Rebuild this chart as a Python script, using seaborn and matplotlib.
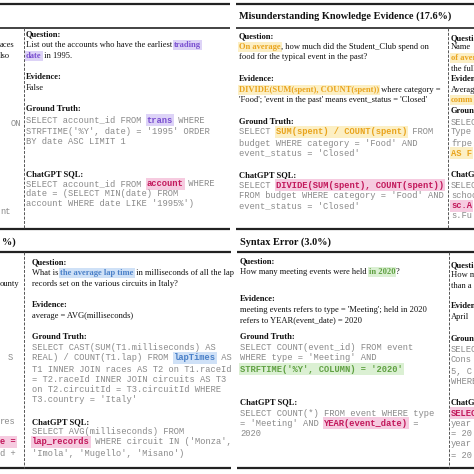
import matplotlib
matplotlib.use("Agg")
import matplotlib.pyplot as plt
import seaborn as sns

sns.set_theme(style="white")
plt.rcParams['font.family'] = ['Liberation Serif', 'DejaVu Serif']

SERIF = 'Liberation Serif'
MONO = 'Liberation Mono'
GRAY = '#8a8a8a'
HL = {
    'purple': ('#ddd3f7', '#7a4fd0'),
    'pink': ('#f6cbe0', '#c2185b'),
    'yellow': ('#fcefc4', '#e9a41d'),
    'blue': ('#cfe1f7', '#4a80c8'),
    'green': ('#dbf0d3', '#5fa041'),
}

titles = [
    (239, 16, "Misunderstanding Knowledge Evidence (17.6%)"),
    (2, 242, "%)"),
    (240, 242, "Syntax Error (3.0%)"),
]

panel_top_left = [
    (26, 34, 'b', [("Question:", None)]),
    (26, 45, 'n', [("List out the accounts who have the earliest ", None), ("trading", 'purple')]),
    (26, 56, 'n', [("date", 'purple'), (" in 1995.", None)]),
    (26, 77, 'b', [("Evidence:", None)]),
    (26, 88, 'n', [("False", None)]),
    (26, 109, 'b', [("Ground Truth:", None)]),
    (26, 120, 'm', [("SELECT account_id FROM ", None), ("trans", 'purple'), (" WHERE", None)]),
    (26, 131, 'm', [("STRFTIME('%Y', date) = '1995' ORDER", None)]),
    (26, 141, 'm', [("BY date ASC LIMIT 1", None)]),
    (26, 174, 'b', [("ChatGPT SQL:", None)]),
    (26, 184, 'm', [("SELECT account_id FROM ", None), ("account", 'pink'), (" WHERE", None)]),
    (26, 194, 'm', [("date = (SELECT MIN(date) FROM", None)]),
    (26, 204, 'm', [("account WHERE date LIKE '1995%')", None)]),
]
frag_top_left = [
    (0, 45, 'n', [("aces", None)]),
    (0, 56, 'n', [("lso", None)]),
    (11, 123, 'm', [("ON", None)]),
    (0, 212, 'm', [("nt", None)]),
]
panel_top_right = [
    (239, 36, 'b', [("Question:", None)]),
    (239, 47, 'n', [("On average", 'yellow'), (", how much did the Student_Club spend on", None)]),
    (239, 57, 'n', [("food for the typical event in the past?", None)]),
    (239, 79, 'b', [("Evidence:", None)]),
    (239, 90, 'n', [("DIVIDE(SUM(spent), COUNT(spent))", 'yellow'), (" where category =", None)]),
    (239, 100, 'n', [("'Food'; 'event in the past' means event_status = 'Closed'", None)]),
    (239, 122, 'b', [("Ground Truth:", None)]),
    (239, 132, 'm', [("SELECT ", None), ("SUM(spent) / COUNT(spent)", 'yellow'), (" FROM", None)]),
    (239, 143, 'm', [("budget WHERE category = 'Food' AND", None)]),
    (239, 153, 'm', [("event_status = 'Closed'", None)]),
    (239, 175, 'b', [("ChatGPT SQL:", None)]),
    (239, 185, 'm', [("SELECT ", None), ("DIVIDE(SUM(spent), COUNT(spent))", 'pink')]),
    (239, 195, 'm', [("FROM budget WHERE category = 'Food' AND", None)]),
    (239, 206, 'm', [("event_status = 'Closed'", None)]),
]
frag_top_right = [
    (451, 38, 'b', [("Question:", None)]),
    (451, 47, 'n', [("Name", None)]),
    (451, 58, 'n', [("of average", 'yellow')]),
    (451, 69, 'n', [("the full", None)]),
    (451, 79, 'b', [("Evidence", None)]),
    (451, 90, 'n', [("Average", None)]),
    (451, 100, 'n', [("comm", 'yellow')]),
    (451, 111, 'b', [("Ground", None)]),
    (451, 122, 'm', [("SELECT", None)]),
    (451, 132, 'm', [("Type", None)]),
    (451, 143, 'm', [("frpe", None)]),
    (451, 153, 'm', [("AS F", 'yellow')]),
    (451, 175, 'b', [("ChatGPT", None)]),
    (451, 185, 'm', [("SELECT", None)]),
    (451, 195, 'm', [("school", None)]),
    (451, 206, 'm', [("sc.A", 'pink')]),
    (451, 216, 'm', [("s.Fu", None)]),
]
panel_bot_left = [
    (32, 262, 'b', [("Question:", None)]),
    (32, 273, 'n', [("What is ", None), ("the average lap time", 'blue'), (" in milliseconds of all the lap", None)]),
    (32, 284, 'n', [("records set on the various circuits in Italy?", None)]),
    (32, 305, 'b', [("Evidence:", None)]),
    (32, 316, 'n', [("average = AVG(milliseconds)", None)]),
    (32, 337, 'b', [("Ground Truth:", None)]),
    (32, 348, 'm', [("SELECT CAST(SUM(T1.milliseconds) AS", None)]),
    (32, 358, 'm', [("REAL) / COUNT(T1.lap) FROM ", None), ("lapTimes", 'blue'), (" AS", None)]),
    (32, 369, 'm', [("T1 INNER JOIN races AS T2 on T1.raceId", None)]),
    (32, 379, 'm', [("= T2.raceId INNER JOIN circuits AS T3", None)]),
    (32, 390, 'm', [("on T2.circuitId = T3.circuitId WHERE", None)]),
    (32, 400, 'm', [("T3.country = 'Italy'", None)]),
    (32, 422, 'b', [("ChatGPT SQL:", None)]),
    (32, 432, 'm', [("SELECT AVG(milliseconds) FROM", None)]),
    (32, 442, 'm', [("lap_records", 'pink'), (" WHERE circuit IN ('Monza',", None)]),
    (32, 453, 'm', [("'Imola', 'Mugello', 'Misano')", None)]),
]
frag_bot_left = [
    (0, 284, 'n', [("ounty", None)]),
    (8, 358, 'm', [("S", None)]),
    (0, 422, 'm', [("res", None)]),
    (0, 442, 'm', [("e =", 'pink')]),
    (0, 453, 'm', [("d +", None)]),
]
panel_bot_right = [
    (240, 261, 'b', [("Question:", None)]),
    (240, 272, 'n', [("How many meeting events were held ", None), ("in 2020", 'green'), ("?", None)]),
    (240, 299, 'b', [("Evidence:", None)]),
    (240, 310, 'n', [("meeting events refers to type = 'Meeting'; held in 2020", None)]),
    (240, 320, 'n', [("refers to YEAR(event_date) = 2020", None)]),
    (240, 337, 'b', [("Ground Truth:", None)]),
    (240, 348, 'm', [("SELECT COUNT(event_id) FROM event", None)]),
    (240, 358, 'm', [("WHERE type = 'Meeting' AND", None)]),
    (240, 369, 'm', [("STRFTIME('%Y', COLUMN) = '2020'", 'green')]),
    (240, 402, 'b', [("ChatGPT SQL:", None)]),
    (240, 413, 'm', [("SELECT COUNT(*) FROM event WHERE type", None)]),
    (240, 423, 'm', [("= 'Meeting' AND ", None), ("YEAR(event_date)", 'pink'), (" =", None)]),
    (240, 434, 'm', [("2020", None)]),
]
frag_bot_right = [
    (451, 265, 'b', [("Question:", None)]),
    (451, 275, 'n', [("How many", None)]),
    (451, 286, 'n', [("than a", None)]),
    (451, 306, 'b', [("Evidence", None)]),
    (451, 317, 'n', [("April", None)]),
    (451, 339, 'b', [("Ground", None)]),
    (451, 350, 'm', [("SELECT", None)]),
    (451, 360, 'm', [("Cons", None)]),
    (451, 371, 'm', [("5, C", None)]),
    (451, 381, 'm', [("WHERE", None)]),
    (451, 403, 'b', [("ChatGPT", None)]),
    (451, 413, 'm', [("SELECT", 'pink')]),
    (451, 424, 'm', [("year", None)]),
    (451, 434, 'm', [("= 20", None)]),
    (451, 444, 'm', [("year", None)]),
    (451, 455, 'm', [("= 20", None)]),
]

rules = [(4, 0, 230, 1.6), (28, 0, 230, 1.2), (229, 0, 230, 1.6),
         (4, 236, 474, 1.6), (28, 236, 474, 1.2), (229, 236, 474, 1.6),
         (252, 0, 231, 1.6), (468, 0, 231, 1.6),
         (252, 237, 474, 1.6), (468, 237, 474, 1.6)]
dashes = [(24, 28, 229), (448, 28, 229), (24, 252, 468), (449, 252, 468)]

fig = plt.figure(figsize=(4.74, 4.74), dpi=100)
ax = fig.add_axes([0, 0, 1, 1])
ax.set_xlim(0, 474)
ax.set_ylim(474, 0)
ax.axis('off')
renderer = fig.canvas.get_renderer()

for y, x0, x1, w in rules:
    ax.plot([x0, x1], [y, y], color='#222222', lw=w, solid_capstyle='butt')
for x, y0, y1 in dashes:
    ax.plot([x, x], [y0, y1], color='#555555', lw=0.7, ls=(0, (3, 1.5)))

for x, y, t in titles:
    ax.text(x, y, t, family=SERIF, fontsize=7.4, fontweight='bold', va='center', ha='left', color='#111111')


def draw_line(x, y, kind, segs):
    for text, hl in segs:
        if kind == 'm':
            fam, size = MONO, 6.3
        else:
            fam, size = SERIF, 6.15
        weight = 'bold' if (kind == 'b' or hl) else 'normal'
        color = GRAY if kind == 'm' else '#111111'
        kw = {}
        if hl:
            bg, color = HL[hl]
            kw['bbox'] = dict(boxstyle='square,pad=0.12', fc=bg, ec='none')
        t = ax.text(x, y, text, family=fam, fontsize=size, fontweight=weight,
                    color=color, va='center', ha='left', **kw)
        if hl:
            t.set_bbox(None)
            w = t.get_window_extent(renderer).width
            t.set_bbox(kw['bbox'])
        else:
            w = t.get_window_extent(renderer).width
        x += w


for block in [panel_top_left, frag_top_left, panel_top_right, frag_top_right,
              panel_bot_left, frag_bot_left, panel_bot_right, frag_bot_right]:
    for x, y, kind, segs in block:
        draw_line(x, y, kind, segs)

fig.savefig("out.png", dpi=100, facecolor='white')
